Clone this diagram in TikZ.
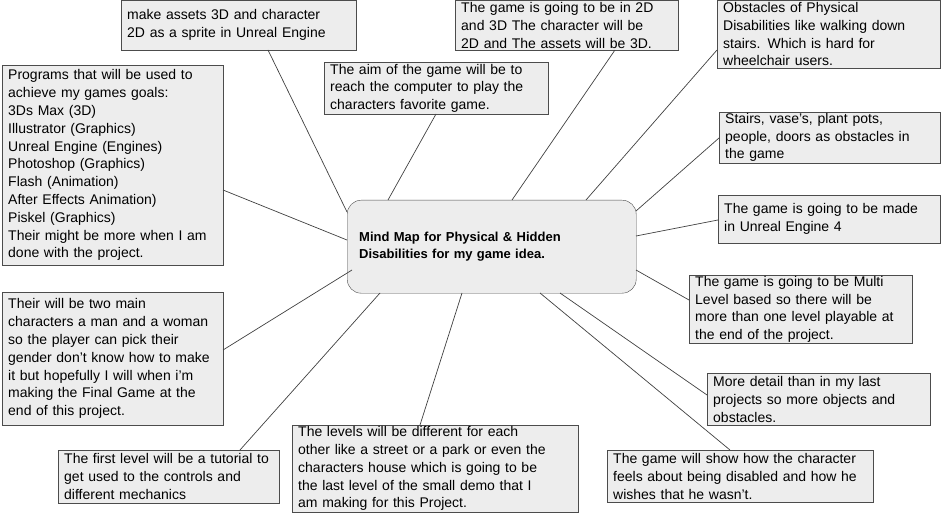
\documentclass[tikz,border=0pt]{standalone}
\usepackage{fontspec}
\setmainfont{Liberation Sans}
\begin{document}
\begin{tikzpicture}[x=1pt,y=-1pt,
  bx/.style={draw=black!70,fill=black!7,anchor=north west,align=left,inner xsep=6pt,inner ysep=1pt,
    font=\fontsize{14}{17.8}\selectfont},
  ln/.style={draw=black!75,line width=0.7pt}]
\useasboundingbox (0,0) rectangle (944,529);
\newcommand{\bxn}[6]{\node[bx,minimum width=#4,minimum height=#5,text width=#4-12] (#1) at (#2,#3) {#6};}
\bxn{b1}{121}{0}{235}{50}{make assets 3D and character\\2D as a sprite in Unreal Engine}
\bxn{b2}{455}{0}{223}{50}{The game is going to be in 2D\\and 3D The character will be\\2D and The assets will be 3D.}
\bxn{b3}{717}{0}{223}{68}{Obstacles of Physical\\Disabilities like walking down\\stairs. Which is hard for\\wheelchair users.}
\bxn{b4}{2}{65}{221}{200}{Programs that will be used to\\achieve my games goals:\\3Ds Max (3D)\\Illustrator (Graphics)\\Unreal Engine (Engines)\\Photoshop (Graphics)\\Flash (Animation)\\After Effects Animation)\\Piskel (Graphics)\\Their might be more when I am\\done with the project.}
\bxn{b5}{324}{62}{224}{52}{The aim of the game will be to\\reach the computer to play the\\characters favorite game.}
\bxn{b6}{719}{112}{221}{49}{Stairs, vase's, plant pots,\\people, doors as obstacles in\\the game}
\node[draw=black!70,fill=black!7,rounded corners=14pt,minimum width=289,minimum height=93,text width=265,anchor=north west,align=left,inner xsep=12pt,font=\fontsize{13}{17.8}\selectfont\bfseries] (c) at (347,200) {Mind Map for Physical \& Hidden\\Disabilities for my game idea.};
\bxn{b7}{718}{195}{222}{48}{The game is going to be made\\in Unreal Engine 4}
\bxn{b8}{689}{275}{223}{67}{The game is going to be Multi\\Level based so there will be\\more than one level playable at\\the end of the project.}
\bxn{b9}{2}{292}{221}{133}{Their will be two main\\characters a man and a woman\\so the player can pick their\\gender don't know how to make\\it but hopefully I will when i'm\\making the Final Game at the\\end of this project.}
\bxn{b10}{707}{373}{223}{52}{More detail than in my last\\projects so more objects and\\obstacles.}
\bxn{b11}{58}{450}{221}{53}{The first level will be a tutorial to\\get used to the controls and\\different mechanics}
\bxn{b12}{292}{425}{286}{87}{The levels will be different for each\\other like a street or a park or even the\\characters house which is going to be\\the last level of the small demo that I\\am making for this Project.}
\bxn{b13}{607}{450}{266}{52}{The game will show how the character\\feels about being disabled and how he\\wishes that he wasn't.}
\coordinate (p1) at (268,50); \coordinate (q1) at (347,212);
\coordinate (p2) at (615,50); \coordinate (q2) at (512,200);
\coordinate (p3) at (717,50); \coordinate (q3) at (586,200);
\coordinate (p4) at (223,190); \coordinate (q4) at (347,240);
\coordinate (p5) at (436,114); \coordinate (q5) at (388,200);
\coordinate (p6) at (719,138); \coordinate (q6) at (636,211);
\coordinate (p7) at (718,220); \coordinate (q7) at (636,236);
\coordinate (p8) at (689,300); \coordinate (q8) at (636,270);
\coordinate (p9) at (223,350); \coordinate (q9) at (352,270);
\coordinate (p10) at (707,395); \coordinate (q10) at (560,293);
\coordinate (p11) at (240,450); \coordinate (q11) at (380,293);
\coordinate (p12) at (420,425); \coordinate (q12) at (462,293);
\coordinate (p13) at (730,450); \coordinate (q13) at (540,293);
\foreach \i in {1,...,13} \draw[ln] (p\i) -- (q\i);
\end{tikzpicture}
\end{document}
